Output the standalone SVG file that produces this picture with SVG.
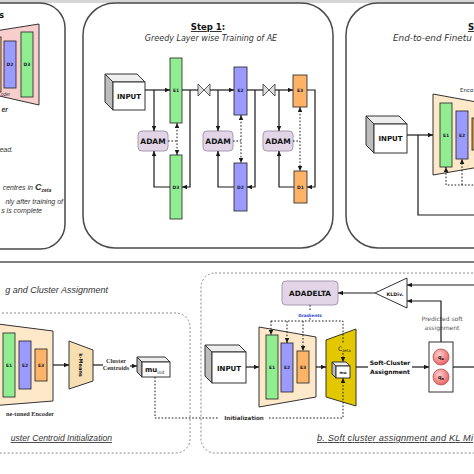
<svg xmlns="http://www.w3.org/2000/svg" width="474" height="474" viewBox="0 0 474 474">
<defs>
<marker id="ah" viewBox="0 0 6 6" refX="6" refY="3" markerWidth="5" markerHeight="5" markerUnits="userSpaceOnUse" orient="auto-start-reverse"><path d="M0,0.3 L6,3 L0,5.7 z" fill="#1a1a1a"/></marker>
<radialGradient id="qg" cx="0.4" cy="0.35" r="0.7"><stop offset="0" stop-color="#ffd0d0"/><stop offset="1" stop-color="#e85a5a"/></radialGradient>
<style>
.pnl{fill:#fff;stroke:#4a4a4a;stroke-width:1.5}
.dbox{fill:none;stroke:#8a8a8a;stroke-width:1;stroke-dasharray:2,2}
.ln{stroke:#1a1a1a;stroke-width:1.2;fill:none}
.dt{stroke:#1a1a1a;stroke-width:1;stroke-dasharray:1.6,1.8;fill:none}
.bx{stroke:#333;stroke-width:0.9}
.gr{fill:#90ee90}.bl{fill:#9a9aff}.or{fill:#ffb366}
.adam{fill:#e1d5e7;stroke:#a898b0;stroke-width:1}
.enc{fill:#fde9c9;stroke:#333;stroke-width:1}
.lbl{font-family:"DejaVu Sans",sans-serif;font-weight:bold;font-size:4.5px;text-anchor:middle;fill:#223}
.bold{font-family:"DejaVu Sans",sans-serif;font-weight:bold;fill:#111}
.it{font-family:"Liberation Sans",Arial,sans-serif;font-style:italic;fill:#333}
.dv{font-family:"DejaVu Sans",sans-serif;font-style:oblique;fill:#333}
.ser{font-family:"Liberation Serif",serif;font-weight:bold;fill:#333}
.front{fill:#fff;stroke:#333;stroke-width:1}
.side{fill:#bdbdbd;stroke:#333;stroke-width:1}
.top{fill:#eee;stroke:#333;stroke-width:1}
</style>
</defs>
<rect x="0" y="0" width="474" height="474" fill="#fff"/>
<rect x="0" y="0" width="474" height="3" fill="#d6d6d6"/>

<!-- Left panel (cut off) -->
<g id="panel-left">
<rect class="pnl" x="-40" y="3" width="105" height="246" rx="25"/>
<text class="bold" x="4" y="18" font-size="8" text-anchor="end">s</text>
<polygon points="-5,31 39,24 39,105 -5,95" fill="#f8cecc" stroke="#333" stroke-width="1"/>
<rect class="bx or" x="-10" y="37" width="11" height="55"/>
<rect class="bx bl" x="4" y="41" width="12" height="47"/>
<text class="lbl" x="10" y="66">D2</text>
<rect class="bx gr" x="21" y="32" width="12" height="65"/>
<text class="lbl" x="27" y="66">D3</text>
<text class="it" x="10" y="96" font-size="4.5" text-anchor="end">oder</text>
<text class="it" x="8" y="112" font-size="7" font-weight="bold" fill="#111" text-anchor="end">er</text>
<text class="it" x="13" y="152" font-size="7" fill="#555" text-anchor="end">ead.</text>
<text class="it" x="33" y="190" font-size="7" fill="#555" text-anchor="end">centres in</text>
<text class="it" x="35" y="190" font-size="9" font-weight="bold" fill="#111">C<tspan font-size="5" dy="2">zeta</tspan></text>
<text class="it" x="63" y="204" font-size="7" fill="#555" text-anchor="end">nly after training of</text>
<text class="it" x="42" y="213" font-size="7" fill="#555" text-anchor="end">s is complete</text>
</g>

<!-- Middle panel -->
<g id="panel-step1">
<rect class="pnl" x="83" y="3" width="250" height="245" rx="32"/>
<text class="bold" x="208" y="30" font-size="8.5" text-anchor="middle"><tspan text-decoration="underline">Step 1</tspan>:</text>
<text class="dv" x="211" y="41" font-size="8" text-anchor="middle">Greedy Layer wise Training of AE</text>
</g>
<g id="input1">
<polygon class="side" points="105,74 113,82 113,110 105,102"/>
<polygon class="top" points="105,74 137,74 145,82 113,82"/>
<rect class="front" x="113" y="82" width="32" height="28"/>
<text class="bold" x="129" y="98.5" font-size="7" text-anchor="middle">INPUT</text>
</g>
<g id="E1a"><rect class="bx gr" x="170" y="58" width="12" height="65"/><text class="lbl" x="176" y="92">E1</text></g>
<g id="E2a"><rect class="bx bl" x="234" y="67" width="13" height="48"/><text class="lbl" x="240.5" y="92">E2</text></g>
<g id="E3a"><rect class="bx or" x="293" y="75" width="14" height="32"/><text class="lbl" x="300" y="92">E3</text></g>
<g id="D3a"><rect class="bx gr" x="170" y="155" width="12" height="64"/><text class="lbl" x="176" y="189">D3</text></g>
<g id="D2a"><rect class="bx bl" x="234" y="163" width="13" height="48"/><text class="lbl" x="240.5" y="189">D2</text></g>
<g id="D1a"><rect class="bx or" x="294" y="171" width="13" height="32"/><text class="lbl" x="300.5" y="189">D1</text></g>
<g id="adam1"><rect class="adam" x="138" y="131" width="30" height="20" rx="4"/><text class="bold" x="153" y="144" font-size="7.5" text-anchor="middle">ADAM</text></g>
<g id="adam2"><rect class="adam" x="203" y="131" width="30" height="20" rx="4"/><text class="bold" x="218" y="144" font-size="7.5" text-anchor="middle">ADAM</text></g>
<g id="adam3"><rect class="adam" x="263" y="131" width="30" height="20" rx="4"/><text class="bold" x="278" y="144" font-size="7.5" text-anchor="middle">ADAM</text></g>
<g id="valve1"><polygon points="198,84 204,90 198,96" fill="#ddd" stroke="#333" stroke-width="0.8"/><polygon points="210,84 204,90 210,96" fill="#ddd" stroke="#333" stroke-width="0.8"/></g>
<g id="valve2"><polygon points="263,84 269,90 263,96" fill="#ddd" stroke="#333" stroke-width="0.8"/><polygon points="275,84 269,90 275,96" fill="#ddd" stroke="#333" stroke-width="0.8"/></g>

<!-- Right panel -->
<g id="panel-step2">
<rect class="pnl" x="346" y="3" width="200" height="245" rx="32"/>
<text class="bold" x="468" y="30" font-size="8.5" text-decoration="underline">Ste</text>
<text class="dv" x="393" y="41" font-size="8.8">End-to-end Finetu</text>
</g>
<g id="input2">
<polygon class="side" points="366,116 374,124 374,153 366,145"/>
<polygon class="top" points="366,116 399,116 407,124 374,124"/>
<rect class="front" x="374" y="124" width="33" height="29"/>
<text class="bold" x="390.5" y="141" font-size="7" text-anchor="middle">INPUT</text>
</g>
<g id="encoder2">
<polygon class="enc" points="433,94 520,110 520,160 433,175"/>
<text x="460" y="92" font-family="DejaVu Sans,sans-serif" font-size="5.5" fill="#222">Enco</text>
<rect class="bx gr" x="440" y="103" width="12" height="64"/><text class="lbl" x="446" y="137">E1</text>
<rect class="bx bl" x="456" y="111" width="12" height="48"/><text class="lbl" x="462" y="137">E2</text>
<rect class="bx" x="472" y="118" width="12" height="32" fill="#c49150"/>
</g>

<!-- Separator -->
<line x1="0" y1="262" x2="474" y2="262" stroke="#555" stroke-width="1.5"/>
<text class="it" x="108" y="293" font-size="9" text-anchor="end">g and Cluster Assignment</text>

<!-- Bottom left -->
<g id="box-a">
<rect class="dbox" x="-20" y="313" width="210" height="140" rx="14"/>
<text class="it" x="112" y="441" font-size="8.6" text-anchor="end" text-decoration="underline">uster Centroid Initialization</text>
</g>
<g id="encoder-a">
<polygon class="enc" points="-10,323 53,331 53,401 -10,406"/>
<rect class="bx gr" x="3" y="333" width="12" height="64"/><text class="lbl" x="9" y="367">E1</text>
<rect class="bx bl" x="19" y="341" width="12" height="48"/><text class="lbl" x="25" y="367">E2</text>
<rect class="bx or" x="35" y="349" width="12" height="32"/><text class="lbl" x="41" y="367">E3</text>
<text class="ser" x="54" y="416" font-size="6.3" text-anchor="end">ne-tuned Encoder</text>
</g>
<g id="kmeans">
<polygon points="69,341 93,350 93,381 69,389" fill="#f7dfb2" stroke="#333" stroke-width="1"/>
<text class="bold" x="0" y="0" font-size="5" text-anchor="middle" transform="translate(79,365) rotate(90)">k-Means</text>
</g>
<g id="mu-init">
<polygon class="side" points="137,357 142,362 142,377 137,372"/>
<polygon class="top" points="137,357 165,357 170,362 142,362"/>
<rect class="front" x="142" y="362" width="28" height="15"/>
<text class="bold" x="145" y="372" font-size="7">mu<tspan font-size="4.5" dy="1.5" font-weight="normal">init</tspan></text>
</g>
<text class="ser" x="116" y="363" font-size="6.3" text-anchor="middle">Cluster</text>
<text class="ser" x="116" y="370" font-size="6.3" text-anchor="middle">Centroids</text>

<!-- Bottom right -->
<g id="box-b">
<rect class="dbox" x="201" y="273" width="300" height="180" rx="14"/>
<text class="it" x="317" y="441" font-size="9.2" text-decoration="underline" textLength="156" lengthAdjust="spacing">b. Soft cluster assignment and KL Mi</text>
</g>
<g id="adadelta"><rect class="adam" x="282" y="281" width="56" height="24" rx="4"/><text class="bold" x="310" y="296" font-size="7.3" text-anchor="middle">ADADELTA</text></g>
<g id="kldiv"><polygon points="375,293 407,278 407,308" fill="#fff" stroke="#333" stroke-width="1"/><text x="395" y="295.5" font-family="DejaVu Sans,sans-serif" font-size="4.8" font-weight="bold" text-anchor="middle" fill="#222">KLDiv.</text></g>
<g id="input3">
<polygon class="side" points="205,345 212,352 212,383 205,376"/>
<polygon class="top" points="205,345 239,345 246,352 212,352"/>
<rect class="front" x="212" y="352" width="34" height="31"/>
<text class="bold" x="229" y="370.5" font-size="7" text-anchor="middle">INPUT</text>
</g>
<g id="encoder-b">
<polygon class="enc" points="259,327 316,337 316,397 259,407"/>
<rect class="bx gr" x="266" y="335" width="12" height="64"/><text class="lbl" x="272" y="369">E1</text>
<rect class="bx bl" x="281" y="343" width="12" height="49"/><text class="lbl" x="287" y="369">E2</text>
<rect class="bx or" x="297" y="351" width="12" height="32"/><text class="lbl" x="303" y="369">E3</text>
</g>
<g id="czeta">
<polygon points="326,340 356,329 356,406 326,397" fill="#e3c800" stroke="#333" stroke-width="1"/>
<text x="338" y="351" font-family="DejaVu Sans,sans-serif" font-size="6" fill="#222">C<tspan font-size="4" dy="1.2">zeta</tspan></text>
<polygon class="side" points="332,362 336,366 336,378 332,374"/>
<polygon class="top" points="332,362 346,362 350,366 336,366"/>
<rect class="front" x="336" y="366" width="14" height="12"/>
<text class="bold" x="343" y="374" font-size="4" text-anchor="middle">mu</text>
</g>
<g id="qbox">
<rect x="429" y="342" width="24" height="50" fill="#fff" stroke="#333" stroke-width="1"/>
<circle cx="441" cy="357" r="8" fill="url(#qg)" stroke="#b85450" stroke-width="0.8"/>
<text class="bold" x="441" y="359" font-size="5" text-anchor="middle">q<tspan font-size="3.5" dy="1">a</tspan></text>
<circle cx="441" cy="377" r="8" fill="url(#qg)" stroke="#b85450" stroke-width="0.8"/>
<text class="bold" x="441" y="379" font-size="5" text-anchor="middle">q<tspan font-size="3.5" dy="1">n</tspan></text>
</g>
<text x="442" y="321" font-family="DejaVu Sans,sans-serif" font-size="6" fill="#555" text-anchor="middle">Predicted soft</text>
<text x="442" y="330" font-family="DejaVu Sans,sans-serif" font-size="6" fill="#555" text-anchor="middle">assignment</text>
<text class="bold" x="390" y="365" font-size="6" text-anchor="middle">Soft-Cluster</text>
<text class="bold" x="390" y="373.5" font-size="6" text-anchor="middle">Assignment</text>
<text x="310" y="316.5" font-family="DejaVu Sans,sans-serif" font-size="4.3" font-weight="bold" fill="#3344cc" text-anchor="middle">Gradients</text>

<!-- Connectors -->
<g id="connectors">
<path class="ln" d="M145,90 H170" marker-end="url(#ah)"/>
<path class="ln" d="M154,90 V131" marker-end="url(#ah)"/>
<path class="ln" d="M182,90 H198"/>
<path class="ln" d="M210,90 H234" marker-end="url(#ah)"/>
<path class="ln" d="M190,90 V187 H182" marker-end="url(#ah)"/>
<path class="ln" d="M218,90 V131" marker-end="url(#ah)"/>
<path class="ln" d="M170,187 H154 V151" marker-end="url(#ah)"/>
<path class="ln" d="M247,90 H263"/>
<path class="ln" d="M275,90 H293" marker-end="url(#ah)"/>
<path class="ln" d="M255,90 V187 H247" marker-end="url(#ah)"/>
<path class="ln" d="M279,90 V131" marker-end="url(#ah)"/>
<path class="ln" d="M234,187 H218 V151" marker-end="url(#ah)"/>
<path class="ln" d="M307,90 H315 V187 H307" marker-end="url(#ah)"/>
<path class="ln" d="M294,187 H279 V151" marker-end="url(#ah)"/>
<path class="dt" d="M177,123 V155" marker-start="url(#ah)" marker-end="url(#ah)"/>
<path class="dt" d="M168,141 H177"/>
<path class="dt" d="M241,115 V163" marker-start="url(#ah)" marker-end="url(#ah)"/>
<path class="dt" d="M233,141 H241"/>
<path class="dt" d="M300,107 V171" marker-start="url(#ah)" marker-end="url(#ah)"/>
<path class="dt" d="M293,141 H300"/>

<path class="ln" d="M407,135 H433" marker-end="url(#ah)"/>
<path class="ln" d="M418,135 V215 H480"/>
<path class="dt" d="M480,185 H446 V167" marker-end="url(#ah)"/>
<path class="dt" d="M462,185 V159" marker-end="url(#ah)"/>

<path class="ln" d="M53,365 H69" marker-end="url(#ah)"/>
<path class="ln" d="M93,365 H103"/>
<path class="ln" d="M130,366 H137" marker-end="url(#ah)"/>
<path class="dt" d="M155,377 V418 H218"/>
<path class="dt" d="M269,418 H343 V378" marker-end="url(#ah)"/>
<text x="244" y="420" font-family="DejaVu Sans,sans-serif" font-size="5.6" font-weight="bold" fill="#333" text-anchor="middle">Initialization</text>

<path class="ln" d="M246,367 H259" marker-end="url(#ah)"/>
<path class="ln" d="M316,367 H326" marker-end="url(#ah)"/>
<path class="ln" d="M356,367 H368"/>
<path class="ln" d="M412,367 H429" marker-end="url(#ah)"/>
<path class="ln" d="M453,367 H480"/>
<path class="ln" d="M441,342 V301 H407" marker-end="url(#ah)"/>
<path class="ln" d="M480,285 H407" marker-end="url(#ah)"/>
<path class="ln" d="M375,293 H338" marker-end="url(#ah)"/>
<path class="dt" d="M310,305 V311"/>
<path class="dt" d="M310,318 V321"/>
<path class="dt" d="M271,321 H343 V344"/>
<path class="dt" d="M343,353 V362" marker-end="url(#ah)"/>
<path class="dt" d="M271,321 V335" marker-end="url(#ah)"/>
<path class="dt" d="M287,321 V343" marker-end="url(#ah)"/>
<path class="dt" d="M303,321 V351" marker-end="url(#ah)"/>
</g>
</svg>
